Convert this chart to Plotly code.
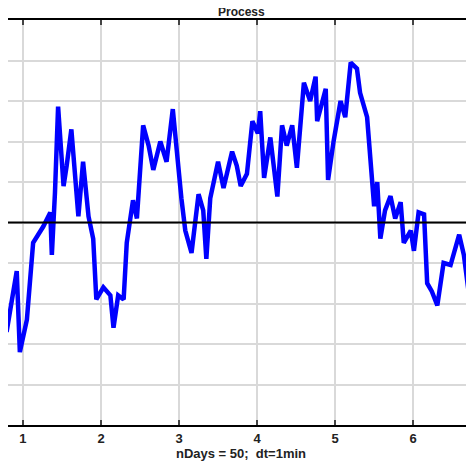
import plotly.graph_objects as go

days = [0.705,0.79,0.92,0.96,1.05,1.13,1.26,1.35,1.37,1.41,1.45,1.52,1.56,1.62,1.71,1.77,1.84,1.90,1.94,2.03,2.12,2.16,2.22,2.29,2.33,2.41,2.46,2.50,2.54,2.61,2.67,2.76,2.84,2.92,2.97,3.03,3.08,3.16,3.25,3.31,3.35,3.40,3.50,3.57,3.68,3.74,
        3.79,3.87,3.94,4.01,4.04,4.09,4.17,4.26,4.32,4.38,4.45,4.51,4.60,4.68,4.75,4.77,4.88,4.91,4.98,5.07,5.13,5.20,5.28,5.32,5.41,5.47,5.50,5.54,5.58,5.64,5.71,5.77,5.84,5.88,5.97,6.01,6.07,6.14,6.18,6.24,6.31,6.39,6.48,6.59,6.65,6.73,6.78]
process = [-2.2,-2.7,-1.2,-3.2,-2.4,-0.5,-0.1,0.25,-0.8,0.74,2.86,0.9,1.4,2.3,0.15,1.5,0.15,-0.4,-1.9,-1.6,-1.8,-2.6,-1.8,-1.9,-0.5,0.55,0.1,1.3,2.4,1.9,1.3,2.0,1.5,2.8,1.7,0.6,-0.2,-0.75,0.7,0.3,-0.9,0.6,1.5,0.85,1.75,1.4,
           0.9,1.2,2.5,2.2,2.75,1.1,2.1,0.64,2.4,1.9,2.4,1.35,3.45,3.0,3.6,2.5,3.3,1.05,2.0,3.0,2.6,3.95,3.8,3.2,2.6,1.0,0.4,1.0,-0.4,0.3,0.65,0.1,0.5,-0.5,-0.2,-0.7,0.25,0.2,-1.5,-1.7,-2.05,-1.0,-1.05,-0.3,-0.8,-2.0,-2.35]

font = dict(family="Liberation Sans", size=13, color="#222")
fig = go.Figure()
fig.add_trace(go.Scatter(x=days, y=process, mode="lines", line=dict(color="#0000ff", width=4.5)))
fig.add_hline(y=0, line=dict(color="black", width=2))
fig.add_annotation(text="<b>Process</b>", x=0.5, xref="paper", y=1, yref="paper", yanchor="bottom",
                   showarrow=False, yshift=-1, font=dict(family="Liberation Sans", size=12, color="#222"))
fig.update_layout(
    width=466, height=466, margin=dict(l=0, r=0, t=12, b=49),
    plot_bgcolor="white", paper_bgcolor="white", showlegend=False,
    font=font,
)
fig.update_xaxes(range=[0.808, 6.78], dtick=1, tick0=0, showgrid=True, gridcolor="#d9d9d9", gridwidth=1.5,
                 showline=True, linecolor="black", linewidth=2, mirror="ticks", ticks="inside", ticklen=5, tickwidth=2,
                 tickfont=dict(family="Liberation Sans", size=13, color="#222"), tickprefix="<b>", ticksuffix="</b>",
                 title=dict(text="<b>nDays = 50;  dt=1min</b>", standoff=4, font=font), zeroline=False)
fig.update_yaxes(range=[-5, 5], dtick=1, showgrid=True, gridcolor="#d9d9d9", gridwidth=1.5, showticklabels=False,
                 zeroline=False, showline=False)
fig.write_html("out.html")
